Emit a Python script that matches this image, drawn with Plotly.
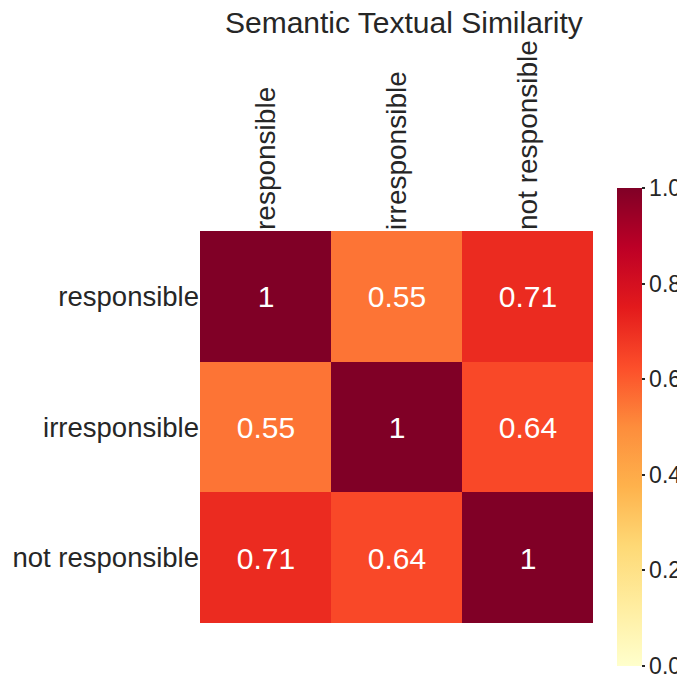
import plotly.graph_objects as go

labels = ["responsible", "irresponsible", "not responsible"]
similarity = [
    [1, 0.55, 0.71],
    [0.55, 1, 0.64],
    [0.71, 0.64, 1],
]
cbar_ticks = [0.0, 0.2, 0.4, 0.6, 0.8, 1.0]

ylorrd = ["#ffffcc", "#ffeda0", "#fed976", "#feb24c", "#fd8d3c",
          "#fc4e2a", "#e31a1c", "#bd0026", "#800026"]

dark = "#262626"
font = "Liberation Sans, Arial, sans-serif"

fig = go.Figure()
fig.add_trace(
    go.Heatmap(
        z=similarity,
        x=labels,
        y=labels,
        zmin=0,
        zmax=1,
        colorscale=ylorrd,
        texttemplate="%{z}",
        textfont=dict(size=30, color="white", family=font),
        colorbar=dict(
            x=1.061, xanchor="left", xpad=0,
            y=1.1097, yanchor="top", ypad=0,
            len=478, lenmode="pixels",
            thickness=25,
            outlinewidth=0,
            tickvals=cbar_ticks,
            tickformat=".1f",
            ticks="outside", ticklen=3, tickwidth=1.5, tickcolor=dark,
            tickfont=dict(size=23, color=dark, family=font),
        ),
    )
)

fig.update_xaxes(side="top", tickangle=-90, showgrid=False, zeroline=False,
                 automargin=False,
                 tickfont=dict(size=28, color=dark, family=font))
fig.update_yaxes(autorange="reversed", showgrid=False, zeroline=False,
                 automargin=False,
                 tickfont=dict(size=27.5, color=dark, family=font))

# page body adds ~8px offset, so margins are shifted up/left
fig.update_layout(
    width=685,
    height=678,
    margin=dict(l=192, r=100, t=223, b=63, autoexpand=False),
    paper_bgcolor="white",
    plot_bgcolor="white",
    title=dict(text="Semantic Textual Similarity", x=0.578, xanchor="center",
               y=1, yanchor="top", pad=dict(t=4),
               font=dict(size=30, color=dark, family=font)),
)

fig.write_html("out.html")
